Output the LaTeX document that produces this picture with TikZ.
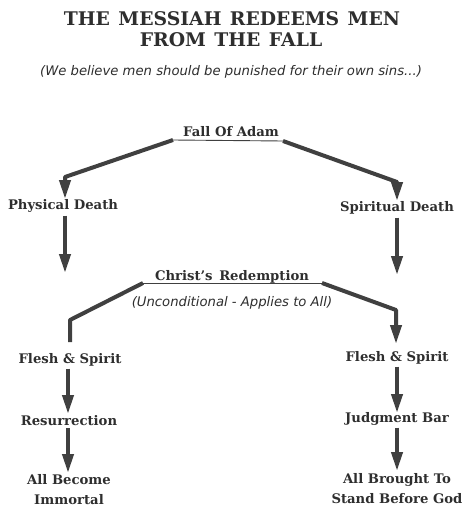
\documentclass[tikz,border=0pt]{standalone}
\usepackage{fontspec}
\setmainfont{DejaVu Serif}
\newfontfamily\subfont{DejaVu Sans}
\usetikzlibrary{arrows.meta}
\definecolor{ink}{HTML}{2E2E2E}
\definecolor{lineink}{HTML}{404040}
\tikzset{
  lbl/.style={font=\bfseries\fontsize{13.2}{20}\selectfont, text=ink, inner sep=1pt, align=center},
  sub/.style={font=\subfont\itshape\fontsize{13.2}{14}\selectfont, text=ink, inner sep=0pt},
  ttl/.style={font=\bfseries\fontsize{18.8}{19}\selectfont, text=ink, inner sep=0pt, align=center},
  link/.style={draw=lineink, line width=4pt, line join=round},
  arr/.style={link, -{Triangle[length=19pt,width=11pt]}},
  rule/.style={draw=lineink, line width=0.9pt},
}
\begin{document}
\begin{tikzpicture}[x=1pt,y=-1pt]
\useasboundingbox[fill=white] (0,0) rectangle (474,511);
% title
\node[ttl] (t1) at (232,19) {THE\hspace{0.45em}MESSIAH\hspace{0.45em}REDEEMS\hspace{0.45em}MEN};
\node[ttl] (t2) at (231,40) {FROM\hspace{0.45em}THE\hspace{0.45em}FALL};
\node[sub] (s1) at (231,72) {(We believe men should be punished for their own sins...)};
% fall of adam
\node[lbl] (fa) at (231,132) {Fall Of Adam};
\coordinate (fl) at (173,140);
\coordinate (fr) at (283,141);
\draw[rule] (fl) -- (fr);
\node[lbl] (pd) at (63,206) {Physical Death};
\node[lbl] (sd) at (397,208) {Spiritual Death};
\coordinate (pdb) at (65,177);
\coordinate (sdb) at (397,182);
\draw[arr] (fl) -- (pdb) -- (65,199);
\draw[arr] (fr) -- (sdb) -- (397,201);
\coordinate (pde) at (65,273);
\coordinate (sde) at (397,275);
\draw[arr] (pd.south -| pde) ++(0,2) -- (pde);
\draw[arr] (sd.south -| sde) ++(0,2) -- (sde);
% christ's redemption
\node[lbl] (cr) at (232,277) {Christ's\hspace{0.5em}Redemption};
\coordinate (cl) at (143,283);
\coordinate (crr) at (322,283);
\draw[rule] (cl) -- (crr);
\node[sub] (uc) at (232,303) {(Unconditional - Applies to All)};
\node[lbl] (fsl) at (70,360) {Flesh \& Spirit};
\node[lbl] (fsr) at (397,358) {Flesh \& Spirit};
\coordinate (clb) at (70,320);
\coordinate (crb) at (396,310);
\draw[link] (cl) -- (clb) -- (70,342);
\draw[arr] (crr) -- (crb) -- (396,344);
% lower chains
\node[lbl] (res) at (69,421) {Resurrection};
\node[lbl] (jb) at (397,419) {Judgment Bar};
\node[lbl] (abi) at (69,490) {All Become\\Immortal};
\node[lbl] (abs) at (397,489) {All Brought To\\Stand Before God};
\draw[arr] (fsl.south -| 68,0) ++(0,1) -- (68,414);
\draw[arr] (fsr.south -| 397,0) ++(0,1) -- (397,413);
\draw[arr] (res.south -| 68,0) ++(0,1) -- (68,473);
\draw[arr] (jb.south -| 397,0) ++(0,1) -- (397,471);
\end{tikzpicture}
\end{document}
